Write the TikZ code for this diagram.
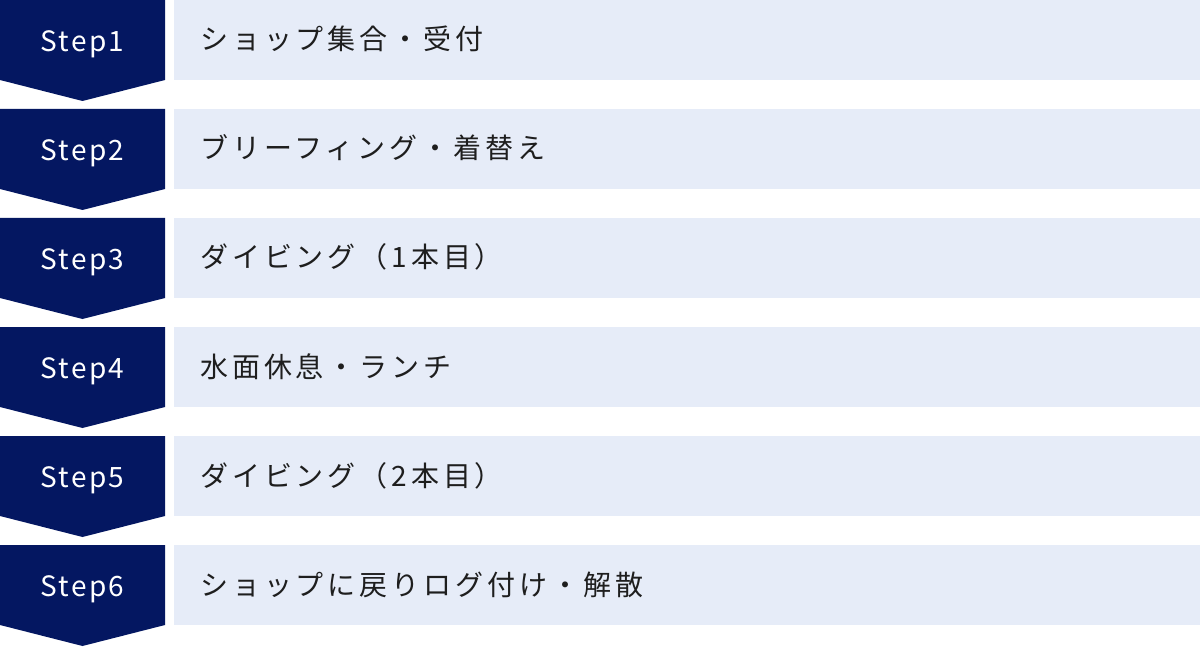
\documentclass[tikz,border=0pt]{standalone}
\usepackage{fontspec}
\setmainfont{Noto Sans CJK JP}
\newfontfamily\jpfont[LetterSpace=14]{Noto Sans CJK JP}
\newfontfamily\stepfont[LetterSpace=8]{Noto Sans CJK JP}
\definecolor{navy}{HTML}{041761}
\definecolor{pale}{HTML}{E6ECF8}
\definecolor{ink}{HTML}{1E1E1E}
\begin{document}
\begin{tikzpicture}[x=1pt,y=-1pt,
  steplabel/.style={text=white,font=\stepfont\fontsize{28}{32}\selectfont,anchor=base,inner sep=0pt},
  itemtext/.style={text=ink,font=\jpfont\fontsize{28}{32}\selectfont,anchor=base west,inner sep=0pt},
  itembox/.style={fill=pale,draw=none},
  arrowbox/.style={fill=navy,draw=none}]
\useasboundingbox (0,0) rectangle (1200,647);
\foreach \i/\t in {1/ショップ集合・受付,2/ブリーフィング・着替え,3/ダイビング（1本目）,4/水面休息・ランチ,5/ダイビング（2本目）,6/ショップに戻りログ付け・解散}{
  \pgfmathsetmacro{\y}{(\i-1)*109}
  \fill[arrowbox] (0,\y) -- (165,\y) -- (165,\y+80) -- (82.5,\y+101) -- (0,\y+80) -- cycle;
  \node[steplabel] (s\i) at (82.5,\y+51.5) {Step\i};
  \fill[itembox] (174,\y) rectangle (1200,\y+80);
  \node[itemtext] (t\i) at (200,\y+50) {\t};
}
\end{tikzpicture}
\end{document}
